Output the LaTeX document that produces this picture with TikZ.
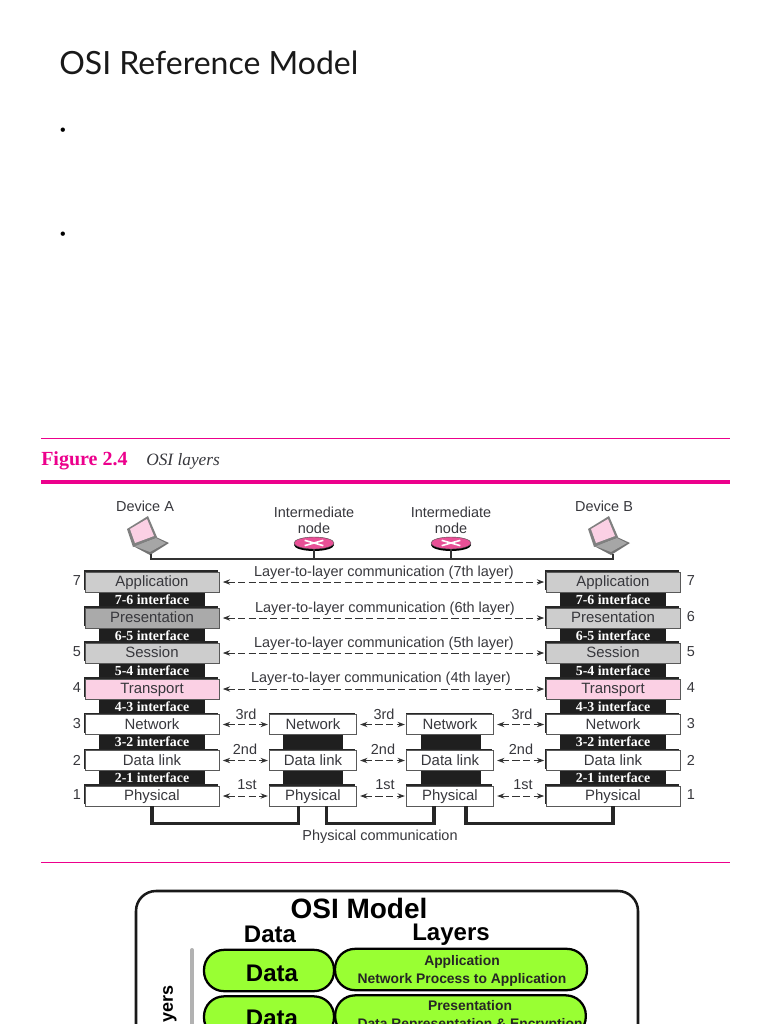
\documentclass[tikz,border=0pt]{standalone}
\usepackage{fontspec}
\setmainfont{Liberation Sans}
\newfontfamily\slidefont{Lato}
\newfontfamily\bookfont{Liberation Serif}
\usepackage{xcolor}
\usetikzlibrary{arrows.meta, positioning, calc, shapes.geometric, shadows}
\definecolor{hotpink}{RGB}{236,0,140}
\definecolor{softpink}{RGB}{251,208,228}
\definecolor{routerpink}{RGB}{232,80,150}
\definecolor{lightbox}{RGB}{205,205,205}
\definecolor{darkbox}{RGB}{170,170,170}
\definecolor{inktext}{RGB}{55,55,60}
\definecolor{pillgreen}{RGB}{153,255,51}

\tikzset{
  layerbox/.style={draw=black!65, line width=0.7pt, inner sep=0pt, minimum width=100.5pt, minimum height=15pt,
    font=\fontsize{11.2}{11.2}\selectfont, text=inktext, text height=8pt, text depth=1pt,
    drop shadow={shadow xshift=-0.8pt, shadow yshift=1.2pt, opacity=1, fill=black!85}},
  midbox/.style={layerbox, minimum width=65pt},
  ifacebar/.style={fill=black!88, inner sep=0pt, minimum width=79.5pt, minimum height=14pt, text=white,
    font=\bookfont\bfseries\fontsize{10.4}{10.4}\selectfont},
  midbar/.style={fill=black!88, inner sep=0pt, minimum width=45pt, minimum height=14pt},
  peerarrow/.style={<->, >={Stealth[length=5.5pt,width=4pt]}, line width=0.7pt, dash pattern=on 5.5pt off 2.5pt,
    shorten <=2.5pt, shorten >=1pt, black!80},
  figtext/.style={font=\fontsize{10.85}{12}\selectfont, text=inktext, inner sep=0pt},
  wire/.style={line width=2.6pt, black!85},
  bus/.style={line width=1pt, black!80},
  router/.style={ellipse, fill=routerpink, draw=black!70, line width=0.3pt, inner sep=0pt, minimum width=30pt, minimum height=9pt,
    drop shadow={shadow xshift=0pt, shadow yshift=-1.5pt, opacity=1, fill=black}},
  pill/.style={draw=black, fill=pillgreen, line width=1.7pt, rounded corners=15pt, inner sep=0pt, minimum height=31pt},
  pilltext/.style={font=\bfseries\fontsize{10.4}{13.5}\selectfont, align=center, inner sep=0pt, text=black!85}
}

% lid and keyboard of one laptop
\newcommand{\laptopicon}[2]{
  \begin{scope}[shift={(#1,#2)}]
    \fill[black!55] (-14,9) -- (9,0) -- (22,6) -- (3,18) -- cycle;
    \fill[black!35] (-13,9) -- (9,1) -- (19,6) -- (3,15) -- cycle;
    \fill[black!50] (-20,-8) -- (1,-21) -- (10,0) -- (-14,10) -- cycle;
    \fill[softpink] (-17,-8) -- (0,-18) -- (7,-1) -- (-12,6) -- cycle;
  \end{scope}
}

\begin{document}
\begin{tikzpicture}[x=0.75pt, y=-0.75pt]
  \useasboundingbox (0,0) rectangle (768,1024);
  \clip (0,0) rectangle (768,1024);

  % slide title
  \node[anchor=west, inner sep=0pt, font=\slidefont\fontsize{24}{24}\selectfont, text=black!90] (slidetitle) at (59,63) {OSI Reference Model};
  \node[inner sep=0pt, font=\fontsize{12}{12}\selectfont] (bulleta) at (63,132) {•};
  \node[inner sep=0pt, font=\fontsize{12}{12}\selectfont] (bulletb) at (63,236) {•};

  % figure rules and caption
  \draw[hotpink, line width=0.7pt] (41,438) -- (730,438);
  \draw[hotpink, line width=2.6pt] (41,482) -- (730,482);
  \draw[hotpink, line width=0.7pt] (41,862) -- (730,862);
  \node[anchor=west, inner sep=0pt, text=hotpink, font=\bookfont\bfseries\fontsize{15}{15}\selectfont] (figlabel) at (41,461) {Figure 2.4};
  \node[anchor=west, inner sep=0pt, text=inktext, font=\bookfont\itshape\fontsize{13}{13}\selectfont] (figname) at (146,461) {OSI layers};

  % devices and the line between them
  \node[figtext] (deva) at (145,506) {Device A};
  \node[figtext] (devb) at (604,506) {Device B};
  \node[figtext, align=center] (inta) at (314,520) {Intermediate\\node};
  \node[figtext, align=center] (intb) at (451,520) {Intermediate\\node};
  \laptopicon{147}{537}
  \laptopicon{608}{537}
  \coordinate (lapa) at (151,554);
  \coordinate (lapb) at (613,554);
  \coordinate (busa) at (314,559);
  \coordinate (busb) at (451,559);
  \node[router] (routera) at (314,543) {};
  \node[router] (routerb) at (451,543) {};
  \draw[white, line width=1.2pt] ([shift={(-7pt,-2pt)}]routera.center) -- ([shift={(7pt,2pt)}]routera.center);
  \draw[white, line width=1.2pt] ([shift={(-7pt,2pt)}]routera.center) -- ([shift={(7pt,-2pt)}]routera.center);
  \draw[white, line width=1.2pt] ([shift={(-7pt,-2pt)}]routerb.center) -- ([shift={(7pt,2pt)}]routerb.center);
  \draw[white, line width=1.2pt] ([shift={(-7pt,2pt)}]routerb.center) -- ([shift={(7pt,-2pt)}]routerb.center);
  \draw[bus] (lapa) |- (lapb |- busa) -- (lapb);
  \draw[bus] (routera.south) -- (busa);
  \draw[bus] (routerb.south) -- (busb);

  % interface bars go under the boxes
  \node[ifacebar] (ifa76) at (152,599.5) {7-6 interface};
  \node[ifacebar] (ifa65) at (152,635.5) {6-5 interface};
  \node[ifacebar] (ifa54) at (152,671) {5-4 interface};
  \node[ifacebar] (ifa43) at (152,706.5) {4-3 interface};
  \node[ifacebar] (ifa32) at (152,742) {3-2 interface};
  \node[ifacebar] (ifa21) at (152,778) {2-1 interface};
  \node[ifacebar] (ifb76) at (613,599.5) {7-6 interface};
  \node[ifacebar] (ifb65) at (613,635.5) {6-5 interface};
  \node[ifacebar] (ifb54) at (613,671) {5-4 interface};
  \node[ifacebar] (ifb43) at (613,706.5) {4-3 interface};
  \node[ifacebar] (ifb32) at (613,742) {3-2 interface};
  \node[ifacebar] (ifb21) at (613,778) {2-1 interface};
  \node[midbar] (barm32) at (313,742.5) {};
  \node[midbar] (barm21) at (313,778.5) {};
  \node[midbar] (barn32) at (451,742.5) {};
  \node[midbar] (barn21) at (451,778.5) {};

  % device A stack
  \node[layerbox, fill=lightbox] (appa) at (152,582) {Application};
  \node[layerbox, fill=darkbox] (prea) at (152,618) {Presentation};
  \node[layerbox, fill=lightbox] (sesa) at (152,653) {Session};
  \node[layerbox, fill=softpink] (traa) at (152,689) {Transport};
  \node[layerbox, fill=white] (neta) at (152,724.5) {Network};
  \node[layerbox, fill=white] (lnka) at (152,760.5) {Data link};
  \node[layerbox, fill=white] (phya) at (152,796) {Physical};

  % device B stack
  \node[layerbox, fill=lightbox] (appb) at (613,582) {Application};
  \node[layerbox, fill=lightbox] (preb) at (613,618) {Presentation};
  \node[layerbox, fill=lightbox] (sesb) at (613,653) {Session};
  \node[layerbox, fill=softpink] (trab) at (613,689) {Transport};
  \node[layerbox, fill=white] (netb) at (613,724.5) {Network};
  \node[layerbox, fill=white] (lnkb) at (613,760.5) {Data link};
  \node[layerbox, fill=white] (phyb) at (613,796) {Physical};

  % intermediate nodes
  \node[midbox, fill=white] (netm) at (313,724.5) {Network};
  \node[midbox, fill=white] (lnkm) at (313,760.5) {Data link};
  \node[midbox, fill=white] (phym) at (313,796) {Physical};
  \node[midbox, fill=white] (netn) at (450,724.5) {Network};
  \node[midbox, fill=white] (lnkn) at (450,760.5) {Data link};
  \node[midbox, fill=white] (phyn) at (450,796) {Physical};

  % layer numbers
  \node[figtext] (numa7) at (77,581) {7};
  \node[figtext] (numa5) at (77,652) {5};
  \node[figtext] (numa4) at (77,688) {4};
  \node[figtext] (numa3) at (77,724) {3};
  \node[figtext] (numa2) at (77,760) {2};
  \node[figtext] (numa1) at (77,795) {1};
  \node[figtext] (numb7) at (691,581) {7};
  \node[figtext] (numb6) at (691,617) {6};
  \node[figtext] (numb5) at (691,652) {5};
  \node[figtext] (numb4) at (691,688) {4};
  \node[figtext] (numb3) at (691,724) {3};
  \node[figtext] (numb2) at (691,760) {2};
  \node[figtext] (numb1) at (691,795) {1};

  % peer to peer links
  \draw[peerarrow] (appa) -- (appb);
  \draw[peerarrow] (prea) -- (preb);
  \draw[peerarrow] (sesa) -- (sesb);
  \draw[peerarrow] (traa) -- (trab);
  \draw[peerarrow] (neta) -- (netm);
  \draw[peerarrow] (netm) -- (netn);
  \draw[peerarrow] (netn) -- (netb);
  \draw[peerarrow] (lnka) -- (lnkm);
  \draw[peerarrow] (lnkm) -- (lnkn);
  \draw[peerarrow] (lnkn) -- (lnkb);
  \draw[peerarrow] (phya) -- (phym);
  \draw[peerarrow] (phym) -- (phyn);
  \draw[peerarrow] (phyn) -- (phyb);
  \node[figtext] (peer7) at (384,573) {Layer-to-layer communication (7th layer)};
  \node[figtext] (peer6) at (385,609) {Layer-to-layer communication (6th layer)};
  \node[figtext] (peer5) at (384,644) {Layer-to-layer communication (5th layer)};
  \node[figtext] (peer4) at (381,679) {Layer-to-layer communication (4th layer)};
  \node[figtext] (hopa3) at (246,714) {3rd};
  \node[figtext] (hopb3) at (384,714) {3rd};
  \node[figtext] (hopc3) at (522,714) {3rd};
  \node[figtext] (hopa2) at (245,749) {2nd};
  \node[figtext] (hopb2) at (383,749) {2nd};
  \node[figtext] (hopc2) at (521,749) {2nd};
  \node[figtext] (hopa1) at (247,785) {1st};
  \node[figtext] (hopb1) at (385,785) {1st};
  \node[figtext] (hopc1) at (523,785) {1st};

  % physical links
  \draw[wire] (phya.south) -- ++(0,17) -| ([xshift=-11pt]phym.south);
  \draw[wire] ([xshift=10pt]phym.south) -- ++(0,17) -| ([xshift=-12pt]phyn.south);
  \draw[wire] ([xshift=12pt]phyn.south) -- ++(0,17) -| (phyb.south);
  \node[figtext] (physcomm) at (380,837) {Physical communication};

  % lower picture, runs off the page
  \draw[black!90, line width=1.9pt, rounded corners=15pt, fill=white] (136,891) rectangle (638,1080);
  \node[inner sep=0pt, font=\bfseries\fontsize{21}{21}\selectfont] (osititle) at (359,908) {OSI Model};
  \node[inner sep=0pt, font=\bfseries\fontsize{18}{18}\selectfont] (headdata) at (270,934) {Data};
  \node[inner sep=0pt, font=\bfseries\fontsize{18}{18}\selectfont] (headlayers) at (451,935) {Layers};
  \draw[black!30, line width=3pt, line cap=round] (192,950) -- (192,1040);
  \node[rotate=90, anchor=east, inner sep=0pt, font=\bfseries\fontsize{13.5}{13.5}\selectfont] (hostlayers) at (170,985) {yers};
  \node[pill, minimum width=97.5pt] (dataone) at (269,970.5) {};
  \node[pill, minimum width=189pt] (layerone) at (461,969.5) {};
  \node[pill, minimum width=97.5pt] (datatwo) at (269,1017) {};
  \node[pill, minimum width=188pt] (layertwo) at (460.5,1016) {};
  \node[inner sep=0pt, font=\bfseries\fontsize{18}{18}\selectfont] (dataonetext) at (272,973) {Data};
  \node[inner sep=0pt, font=\bfseries\fontsize{18}{18}\selectfont] (datatwotext) at (272,1018) {Data};
  \node[pilltext] (layeronetext) at (462,971) {Application\\Network Process to Application};
  \node[pilltext] (layertwotext) at (470,1016) {Presentation\\Data Representation \& Encryption};
\end{tikzpicture}
\end{document}
